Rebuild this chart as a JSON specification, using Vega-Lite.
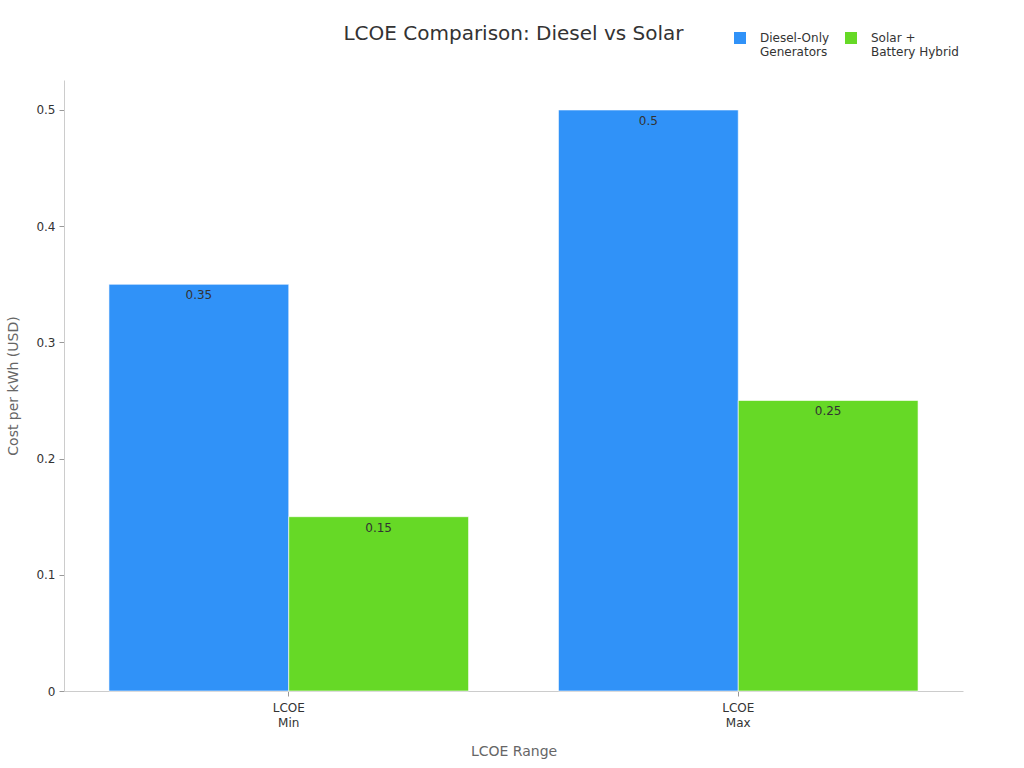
{
  "$schema": "https://vega.github.io/schema/vega-lite/v6.json",
  "width": 899,
  "height": 611,
  "autosize": {"type": "none"},
  "padding": {"left": 64, "top": 80, "right": 61, "bottom": 77},
  "background": "white",
  "config": {
    "font": "DejaVu Sans",
    "view": {"stroke": null}
  },
  "title": {
    "text": "LCOE Comparison: Diesel vs Solar",
    "fontSize": 20,
    "fontWeight": "normal",
    "color": "#333333",
    "anchor": "middle",
    "offset": -12
  },
  "data": {
    "values": [
      {"range": "LCOE Min", "type": "Diesel-Only Generators", "cost": 0.35},
      {"range": "LCOE Min", "type": "Solar + Battery Hybrid", "cost": 0.15},
      {"range": "LCOE Max", "type": "Diesel-Only Generators", "cost": 0.5},
      {"range": "LCOE Max", "type": "Solar + Battery Hybrid", "cost": 0.25}
    ]
  },
  "encoding": {
    "x": {
      "field": "range",
      "type": "nominal",
      "sort": ["LCOE Min", "LCOE Max"],
      "scale": {"paddingInner": 0.2, "paddingOuter": 0.1},
      "axis": {
        "title": "LCOE Range",
        "titleFontSize": 14,
        "titleFontWeight": "normal",
        "titleColor": "#666666",
        "titlePadding": 16,
        "labelAngle": 0,
        "labelExpr": "split(datum.label, ' ')",
        "labelFontSize": 12,
        "labelColor": "#333333",
        "labelLineHeight": 15,
        "labelPadding": 6,
        "domainColor": "#cccccc",
        "tickColor": "#999999",
        "tickSize": 5,
        "grid": false
      }
    },
    "xOffset": {"field": "type", "type": "nominal", "scale": {"paddingInner": 0, "paddingOuter": 0}},
    "y": {
      "field": "cost",
      "type": "quantitative",
      "scale": {"domain": [0, 0.5258], "nice": false},
      "axis": {
        "title": "Cost per kWh (USD)",
        "titleFontSize": 14,
        "titleFontWeight": "normal",
        "titleColor": "#666666",
        "titlePadding": 15,
        "values": [0, 0.1, 0.2, 0.3, 0.4, 0.5],
        "labelExpr": "datum.value == 0 ? '0' : format(datum.value, '.1f')",
        "labelFontSize": 12,
        "labelColor": "#333333",
        "labelPadding": 4,
        "domainColor": "#cccccc",
        "tickColor": "#999999",
        "tickSize": 5,
        "grid": false
      }
    }
  },
  "layer": [
    {
      "mark": {"type": "bar", "stroke": "#ffffff", "strokeWidth": 1, "strokeOpacity": 0.6},
      "encoding": {
        "color": {
          "field": "type",
          "type": "nominal",
          "scale": {"domain": ["Diesel-Only Generators", "Solar + Battery Hybrid"], "range": ["#3092f8", "#66d926"]},
          "legend": {
            "title": null,
            "orient": "none",
            "legendX": 670,
            "legendY": -48,
            "direction": "horizontal",
            "symbolType": "square",
            "symbolSize": 144,
            "symbolStrokeWidth": 0,
            "labelFontSize": 12,
            "labelColor": "#333333",
            "labelOffset": 14,
            "columnPadding": 15,
            "labelExpr": "datum.label == 'Diesel-Only Generators' ? ['Diesel-Only', 'Generators'] : ['Solar +', 'Battery Hybrid']"
          }
        }
      }
    },
    {
      "mark": {"type": "text", "baseline": "top", "dy": 6, "fontSize": 12, "color": "#333333"},
      "encoding": {
        "text": {"field": "cost", "type": "quantitative"}
      }
    }
  ]
}
